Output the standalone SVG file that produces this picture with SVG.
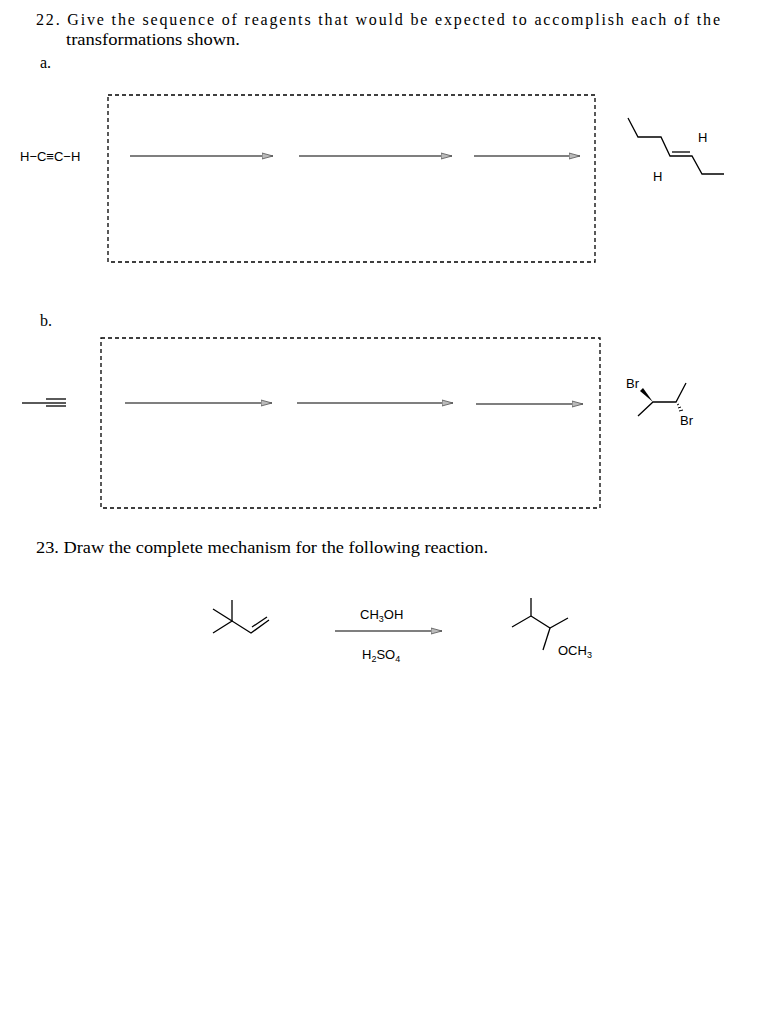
<svg xmlns="http://www.w3.org/2000/svg" width="760" height="1024" viewBox="0 0 760 1024">
<style>
.t{font-family:"Liberation Serif",serif;font-size:16px;fill:#000}
.s{font-family:"Liberation Sans",Arial,sans-serif;font-size:13px;fill:#000}
.b{stroke:#000;stroke-width:1.3;fill:none}
.box{stroke:#000;stroke-width:1.3;fill:none;stroke-dasharray:4 3}
.ar{stroke:#000;stroke-width:1.2;fill:none;marker-end:url(#ah)}
</style>
<defs><marker id="ah" markerWidth="12" markerHeight="8" refX="11" refY="4" orient="auto" markerUnits="userSpaceOnUse"><path d="M0,1 L11,4 L0,7 Z" fill="#bbb" stroke="#555" stroke-width="0.8"/></marker></defs>
<rect width="760" height="1024" fill="#fff"/>
<text class="t" x="36" y="25" textLength="684" lengthAdjust="spacing">22. Give the sequence of reagents that would be expected to accomplish each of the</text>
<text class="t" x="66" y="45" textLength="174" lengthAdjust="spacingAndGlyphs">transformations shown.</text>
<text class="t" x="40" y="68">a.</text>
<text class="t" x="40" y="326">b.</text>
<text class="t" x="36" y="553" textLength="452" lengthAdjust="spacingAndGlyphs">23. Draw the complete mechanism for the following reaction.</text>
<g id="boxA"><rect class="box" x="108" y="95" width="487" height="167"/></g>
<g id="boxB"><rect class="box" x="101" y="338" width="499" height="170"/></g>
<g id="acetylene"><text class="s" x="20" y="161">H−C≡C−H</text></g>
<g id="hexene"><polyline class="b" points="628,118 638,137 661,137 670,156 692,156 702,174 724,174"/><line class="b" x1="672" y1="152" x2="690" y2="152"/><text class="s" x="698" y="142">H</text><text class="s" x="653" y="181">H</text></g>
<g id="propyne"><line class="b" x1="22" y1="403" x2="46" y2="403"/><line class="b" x1="46" y1="399" x2="66" y2="399"/><line class="b" x1="46" y1="403" x2="66" y2="403"/><line class="b" x1="46" y1="406" x2="66" y2="406"/></g>
<g id="dibromide"><text class="s" x="626" y="388">Br</text><path d="M653,402 L640,391 L643,388 Z" fill="#000"/><polyline class="b" points="638,416 653,402 676,402 686,383"/><g stroke="#000" stroke-width="1"><line x1="677" y1="405" x2="679" y2="404"/><line x1="678" y1="408" x2="681" y2="407"/><line x1="679" y1="411" x2="683" y2="410"/></g><text class="s" x="680" y="425">Br</text></g>
<g id="alkene"><polyline class="b" points="213,609 232,621 213,633"/><polyline class="b" points="232,600 232,621 251,633 269,620"/><line class="b" x1="252" y1="627" x2="267" y2="617"/></g>
<g id="ether"><polyline class="b" points="531,598 531,616 512,627"/><polyline class="b" points="531,616 550,628 568,618"/><line class="b" x1="550" y1="628" x2="543" y2="650"/><text class="s" x="558" y="655">OCH<tspan font-size="9" dy="3">3</tspan></text></g>
<g id="labels"><text class="s" x="360" y="619">CH<tspan font-size="9" dy="3">3</tspan><tspan dy="-3">OH</tspan></text><text class="s" x="362" y="659">H<tspan font-size="9" dy="3">2</tspan><tspan dy="-3">SO</tspan><tspan font-size="9" dy="3">4</tspan></text></g>
<g id="connectors">
<line class="ar" x1="130" y1="156" x2="273" y2="156"/><line class="ar" x1="299" y1="156" x2="452" y2="156"/><line class="ar" x1="474" y1="156" x2="580" y2="156"/>
<line class="ar" x1="125" y1="403" x2="272" y2="403"/><line class="ar" x1="297" y1="403" x2="453" y2="403"/><line class="ar" x1="476" y1="404" x2="583" y2="404"/>
<line class="ar" x1="335" y1="631" x2="442" y2="631"/>
</g>
</svg>
